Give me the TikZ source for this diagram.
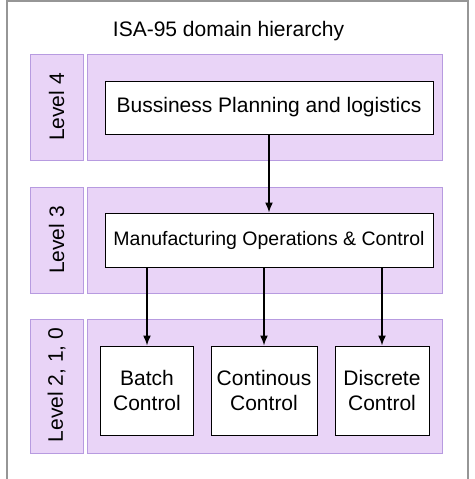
\documentclass[tikz,border=0pt]{standalone}
\usepackage{fontspec}
\setmainfont{Liberation Sans}
\usepackage{tikz}
\usetikzlibrary{arrows.meta}
\definecolor{lavender}{RGB}{233,212,247}
\definecolor{lavenderline}{RGB}{183,155,224}
\definecolor{framegray}{RGB}{150,150,150}
\tikzstyle{levelcell} = [rectangle, draw=lavenderline, fill=lavender, line width=1pt, inner sep=0pt]
\tikzstyle{levellabel} = [rotate=90, font=\fontsize{21}{25}\selectfont]
\tikzstyle{unitcell} = [rectangle, draw=black, fill=white, line width=1pt, inner sep=0pt, align=center, font=\fontsize{21}{25}\selectfont]
\tikzstyle{flow} = [line width=1.5pt, -{Latex[length=10pt,width=8pt]}]

\begin{document}
\begin{tikzpicture}[x=1pt, y=-1pt]
\useasboundingbox (0,0) rectangle (474,479);
% Outer frame, runs out at the bottom
\begin{scope}
\clip (0,0) rectangle (474,479);
\draw[framegray, line width=1.5pt] (7,490) -- (7,1) -- (468,1) -- (468,490);
\end{scope}
% Title
\node[font=\fontsize{21}{25}\selectfont, anchor=base] (title) at (228.5,36) {ISA-95 domain hierarchy};
% Level 4
\node[levelcell, minimum width=53pt, minimum height=106pt] (lab4) at (56.5,107) {};
\node[levellabel] (txt4) at (56.5,107) {Level 4};
\node[levelcell, minimum width=355pt, minimum height=106pt] (row4) at (264.5,107) {};
\node[unitcell, minimum width=328pt, minimum height=53pt] (bpl) at (269,107.5) {Bussiness Planning and logistics};
% Level 3
\node[levelcell, minimum width=53pt, minimum height=106pt] (lab3) at (56.5,240) {};
\node[levellabel] (txt3) at (56.5,240) {Level 3};
\node[levelcell, minimum width=355pt, minimum height=106pt] (row3) at (264.5,240) {};
\node[unitcell, minimum width=328pt, minimum height=54pt, font=\fontsize{19.5}{24}\selectfont] (moc) at (269,240) {Manufacturing Operations \& Control};
% Level 2, 1, 0
\node[levelcell, minimum width=53pt, minimum height=134pt] (lab210) at (56.5,386) {};
\node[levellabel] (txt210) at (56.5,385) {Level 2, 1, 0};
\node[levelcell, minimum width=355pt, minimum height=134pt] (row210) at (264.5,386) {};
\node[unitcell, minimum width=93pt, minimum height=89pt] (batch) at (147,390.5) {Batch\\Control};
\node[unitcell, minimum width=106pt, minimum height=89pt] (cont) at (264,390.5) {Continous\\Control};
\node[unitcell, minimum width=94pt, minimum height=89pt] (disc) at (382,390.5) {Discrete\\Control};
% Connectors
\draw[flow] (bpl.south) -- (moc.north);
\draw[flow] (moc.south -| batch.north) -- (batch.north);
\draw[flow] (moc.south -| cont.north) -- (cont.north);
\draw[flow] (moc.south -| disc.north) -- (disc.north);
\end{tikzpicture}
\end{document}
